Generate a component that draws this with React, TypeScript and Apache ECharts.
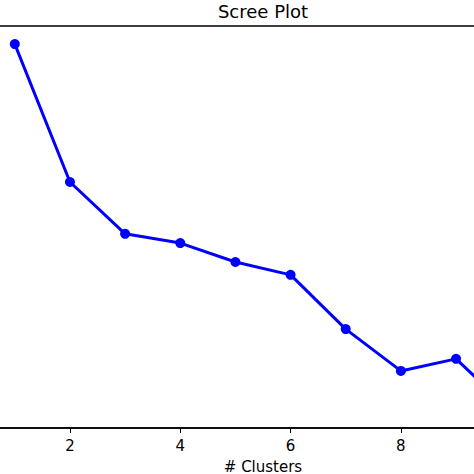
import React, { useEffect, useRef } from "react";
import * as echarts from "echarts";

const clusters = [1, 2, 3, 4, 5, 6, 7, 8, 9, 10];
const inertia = [95.5, 61.2, 48.3, 46.0, 41.3, 38.1, 24.6, 14.2, 17.2, 4.2];
const xTicks = [2, 4, 6, 8, 10];
const xTickLabels = [2, 4, 6, 8];

export default function App() {
  const ref = useRef<HTMLDivElement>(null);
  useEffect(() => {
    if (!ref.current) return;
    const chart = echarts.init(ref.current, null, { renderer: "svg" });
    const font = "'DejaVu Sans', sans-serif";
    chart.setOption({
      animation: false,
      backgroundColor: "#ffffff",
      title: {
        text: "Scree Plot",
        left: "center",
        top: -3,
        textStyle: { fontFamily: font, fontSize: 18, fontWeight: "normal", color: "#000" },
      },
      grid: {
        left: 0,
        right: 0,
        top: 26,
        bottom: 46,
        outerBoundsMode: "none",
        containLabel: false,
        show: true,
        borderColor: "#000",
        borderWidth: 1.5,
      },
      xAxis: {
        type: "value",
        min: 0.55,
        max: 10.45,
        name: "# Clusters",
        nameLocation: "middle",
        nameGap: 31,
        nameTextStyle: { fontFamily: font, fontSize: 15, color: "#000" },
        axisLine: { show: true, lineStyle: { color: "#000", width: 1.5 } },
        axisTick: { show: true, customValues: xTicks, length: 5, lineStyle: { color: "#000", width: 1 } },
        axisLabel: { customValues: xTickLabels, fontFamily: font, fontSize: 15, color: "#000", margin: 10 },
        splitLine: { show: false },
      },
      yAxis: {
        type: "value",
        min: 0,
        max: 100,
        axisLine: { show: false },
        axisTick: { show: false },
        axisLabel: { show: false },
        splitLine: { show: false },
      },
      series: [
        {
          type: "line",
          data: clusters.map((c, i) => [c, inertia[i]]),
          clip: true,
          symbol: "circle",
          symbolSize: 10,
          itemStyle: { color: "#0000ff" },
          lineStyle: { color: "#0000ff", width: 3 },
        },
      ],
    });
    return () => chart.dispose();
  }, []);
  return (
    <div style={{ position: "fixed", left: 0, top: 0, width: 474, height: 474, overflow: "hidden", background: "#fff" }}>
      <div ref={ref} style={{ position: "absolute", left: -10, top: 0, width: 546, height: 474 }} />
    </div>
  );
}
